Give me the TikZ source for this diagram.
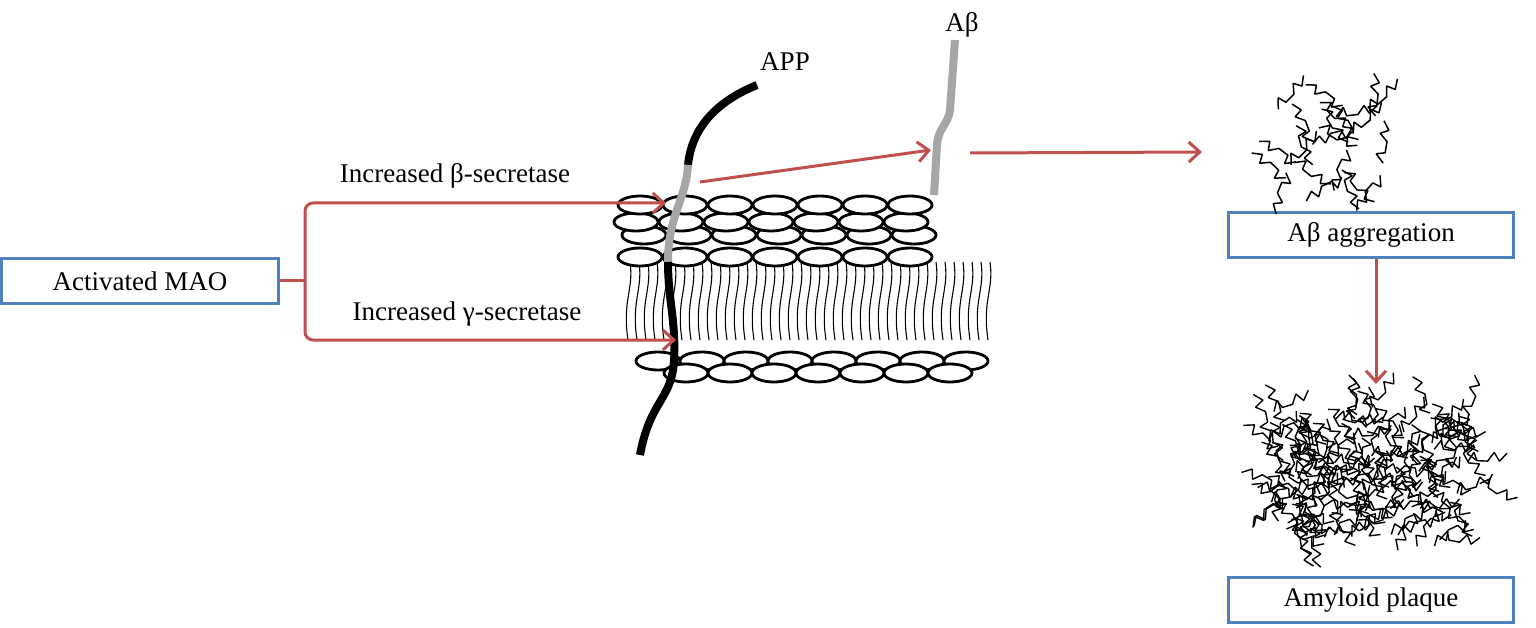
\documentclass[tikz,border=0pt]{standalone}
\usepackage{fontspec}
\setmainfont{Liberation Serif}
\usetikzlibrary{arrows.meta,shapes.geometric}
\definecolor{arr}{HTML}{C0504D}
\definecolor{bx}{HTML}{4F81BD}
\begin{document}
\begin{tikzpicture}[x=1pt,y=-1pt,
  lbl/.style={font=\fontsize{27}{32}\selectfont},
  box/.style={draw=bx,line width=3pt,minimum width=285pt,minimum height=45pt,font=\fontsize{27}{32}\selectfont},
  rarr/.style={draw=arr,line width=3pt,-{Straight Barb[length=11pt,width=20pt]}},
  head/.style={draw=black,line width=2.8pt,fill=white,ellipse,minimum width=44pt,minimum height=18pt,inner sep=0pt},
  tail/.style={line width=1.1pt}]
\useasboundingbox (0,0) rectangle (1536,628);
% nodes
\node[box,minimum width=277pt,anchor=west] (mao) at (0,281) {Activated MAO};
\node[box] (agg) at (1371,235) {Aβ aggregation};
\node[box] (plq) at (1371,600) {Amyloid plaque};
\node[lbl] (lb) at (455,176) {Increased β-secretase};
\node[lbl] (lg) at (467,314) {Increased γ-secretase};
\node[lbl] (app) at (785,62) {APP};
\node[lbl] (ab) at (962,25) {Aβ};
% tails
\foreach \x in {630,639,...,990}{
  \draw[tail] (\x,262) .. controls (\x+4,290) and (\x-8,300) .. (\x-2,340);
}
% upper heads
\foreach \y/\o in {257/0,235/4,222/-4,205/0}{
  \foreach \x in {640,685,...,950}{ \node[head] at (\x+\o,\y) {}; }
}
% lower heads
\foreach \x in {658,702,...,968}{ \node[head] at (\x,361) {}; }
\foreach \x in {686,730,...,990}{ \node[head] at (\x,373) {}; }
% APP
\draw[line width=8pt] (757,85) .. controls (720,100) and (692,125) .. (688,165);
\draw[line width=8pt,gray!70] (688,165) .. controls (686,200) and (668,215) .. (668,262);
\draw[line width=8pt] (668,262) .. controls (668,300) and (676,320) .. (674,360) .. controls (672,400) and (650,400) .. (640,455);
% Abeta
\draw[line width=8pt,gray!70] (955,40) -- (950,110) .. controls (948,125) and (938,128) .. (937,145) -- (934,195);
% connectors
\coordinate (br) at (305,281);
\draw[draw=arr,line width=3pt] (mao.east) -- (br);
\draw[rarr,rounded corners=8pt] (br) |- (666,203);
\draw[rarr,rounded corners=8pt] (br) |- (676,340);
\coordinate (s1) at (700,182); \coordinate (e1) at (931,150);
\draw[rarr] (s1) -- (e1);
\coordinate (s2) at (970,153); \coordinate (e2) at (1202,152);
\draw[rarr] (s2) -- (e2);
\coordinate (e3) at (1376,384);
\draw[rarr] (agg.south -| e3) -- (e3);
% aggregates
\pgfmathsetseed{7}
\foreach \i in {1,...,24}{
  \pgfmathsetmacro{\sx}{1265+rnd*120}\pgfmathsetmacro{\sy}{100+rnd*80}
  \pgfmathsetmacro{\r}{rnd*360}
  \draw[line width=1.5pt,line join=bevel,rotate around={\r:(\sx,\sy)}] (\sx,\sy) -- ++(10,-6) -- ++(0,9) -- ++(11,3) -- ++(9,-6) -- ++(2,9) -- ++(10,-4);
}
\foreach \i in {1,...,150}{
  \pgfmathsetmacro{\sx}{1270+rnd*210}\pgfmathsetmacro{\sy}{405+rnd*135}
  \pgfmathsetmacro{\r}{rnd*360}
  \draw[line width=1.4pt,line join=bevel,rotate around={\r:(\sx,\sy)}] (\sx,\sy) -- ++(9,-7) -- ++(0,9) -- ++(10,4) -- ++(9,-6) -- ++(2,10) -- ++(10,-5);
}
\end{tikzpicture}
\end{document}
